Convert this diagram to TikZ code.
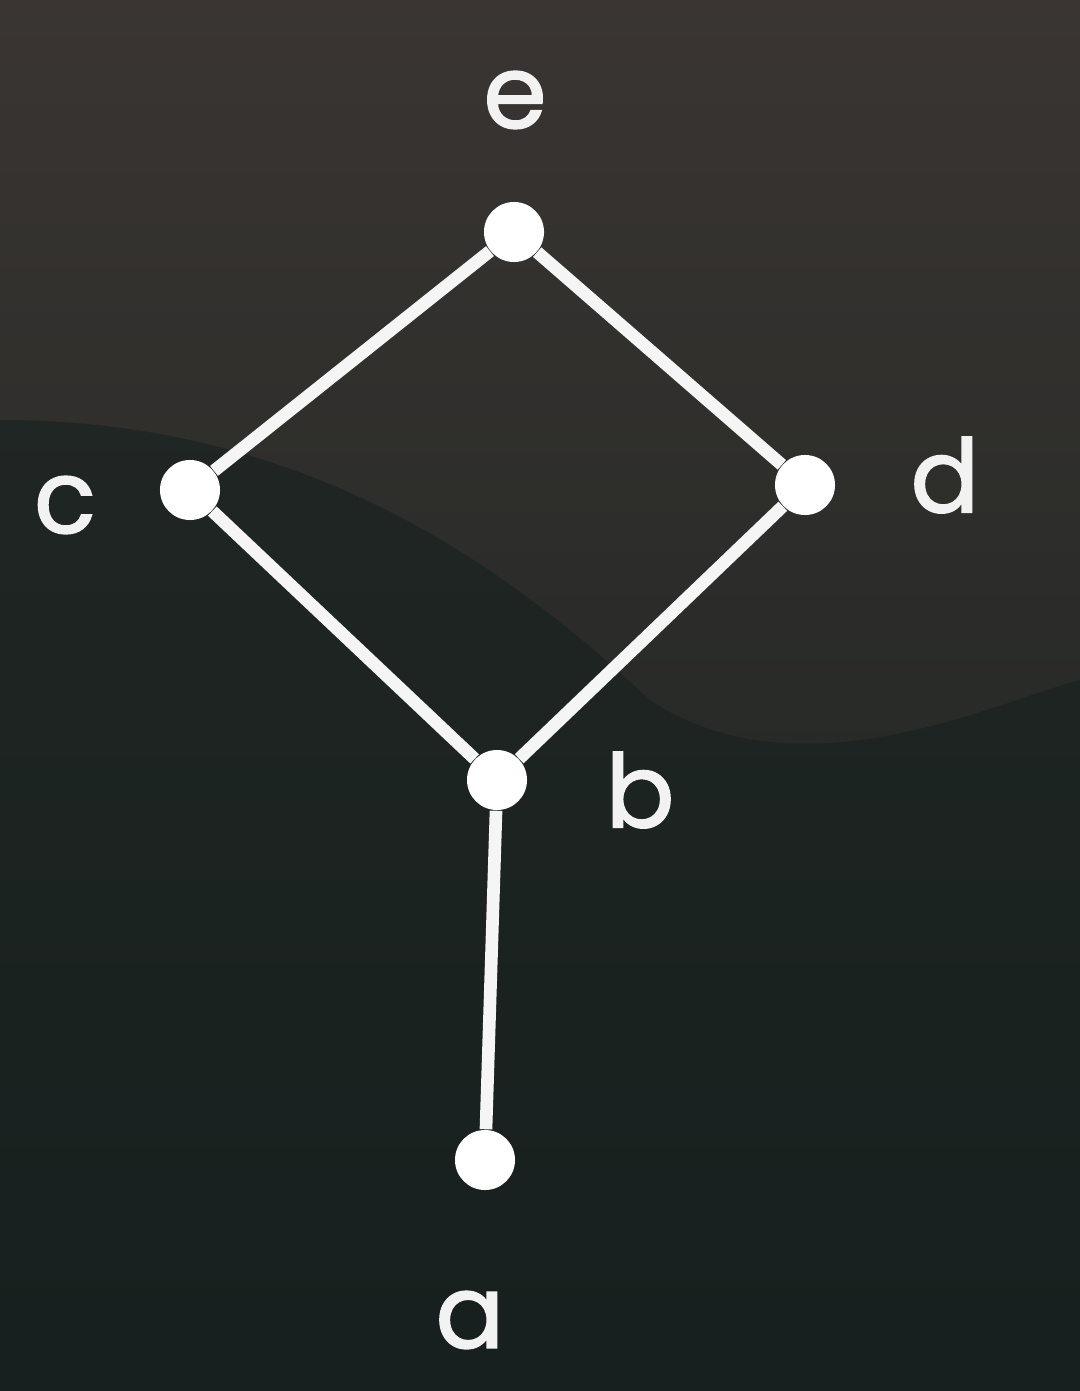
\documentclass[tikz,border=0pt]{standalone}
\usepackage{fontspec}
\setmainfont{Poppins}
\newfontfamily\lblfont{Poppins}[UprightFeatures={FakeBold=1.5}]
\definecolor{bgtop}{RGB}{58,53,50}
\definecolor{bgbot}{RGB}{24,33,31}
\definecolor{bgdark}{RGB}{22,32,30}
\begin{document}
\begin{tikzpicture}[x=0.01cm,y=-0.01cm,
  vtx/.style={circle,fill=white,draw=none,minimum size=0.6cm,inner sep=0pt},
  edge/.style={draw=white!92!gray,line width=3.6pt},
  lbl/.style={text=white!90!gray,font=\lblfont\fontsize{29}{31}\selectfont,inner sep=0pt}]
  \shade[top color=bgtop,bottom color=bgbot] (0,0) rectangle (1080,1391);
  \fill[bgdark,opacity=0.6] (0,420) .. controls (300,420) and (500,560) .. (650,700) .. controls (800,800) and (1000,700) .. (1080,680) -- (1080,1391) -- (0,1391) -- cycle;
  \useasboundingbox (0,0) rectangle (1080,1391);
  \node[vtx] (e) at (514,232) {};
  \node[vtx] (c) at (190,490) {};
  \node[vtx] (d) at (805,485) {};
  \node[vtx] (b) at (497,780) {};
  \node[vtx] (a) at (485,1160) {};
  \draw[edge] (e) -- (c);
  \draw[edge] (e) -- (d);
  \draw[edge] (c) -- (b);
  \draw[edge] (d) -- (b);
  \draw[edge] (b) -- (a);
  \node[lbl] (le) at (515,100) {e};
  \node[lbl] (lc) at (65,505) {c};
  \node[lbl] (ld) at (945,475) {d};
  \node[lbl] (lb) at (640,790) {b};
  \node[lbl] (la) at (470,1320) {a};
\end{tikzpicture}
\end{document}
